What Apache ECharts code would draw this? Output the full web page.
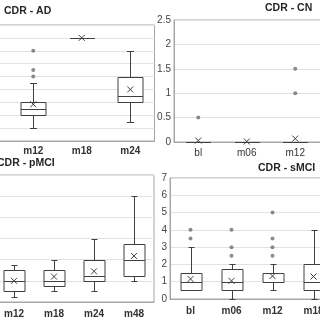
<!DOCTYPE html>
<html><head><meta charset="utf-8">
<script src="https://cdn.jsdelivr.net/npm/echarts@6/dist/echarts.min.js"></script>
<style>html,body{margin:0;padding:0;background:#fff}#c{width:320px;height:320px}</style>
</head><body><div id="c"></div>
<script>
// ---- data: [low whisker, Q1, median, Q3, high whisker] per category ----
const adCats = ['m12', 'm18', 'm24'];
const adBoxes = [[2, 4, 5, 6, 9], [16, 16, 16, 16, 16], [3, 6, 7, 10, 14]];
const adMeans = [5.7, 16, 8];
const adOutliers = [[0, 10], [0, 11], [0, 14]];
const adTicks = [0, 18, 2];

const cnCats = ['bl', 'm06', 'm12'];
const cnBoxes = [[0, 0, 0, 0, 0], [0, 0, 0, 0, 0], [0, 0, 0, 0, 0]];
const cnMeans = [0.03, 0.01, 0.07];
const cnOutliers = [[0, 0.5], [2, 1], [2, 1.5]];
const cnTicks = [0, 2.5, 0.5];

const pmCats = ['m12', 'm18', 'm24', 'm48'];
const pmBoxes = [[0.5, 1, 2, 3, 3.5], [1, 1.5, 2, 3, 4], [1, 2, 2.5, 4, 6], [2, 2.5, 4, 5.5, 10]];
const pmMeans = [2.0, 2.4, 2.9, 4.35];
const pmOutliers = [];
const pmTicks = [0, 12, 2];

const smCats = ['bl', 'm06', 'm12', 'm18'];
const smBoxes = [[0.5, 0.5, 1, 1.5, 3], [0, 0.5, 1, 1.75, 2], [0.5, 1, 1, 1.5, 2], [0, 0.5, 1, 2, 4]];
const smMeans = [1.16, 1.05, 1.33, 1.3];
const smOutliers = [[0, 3.5], [0, 4], [1, 2.5], [1, 3], [1, 4], [2, 2.5], [2, 3], [2, 3.5], [2, 5]];
const smTicks = [0, 7, 1];

const FONT = '"Liberation Sans", Arial, sans-serif';
const LINE = '#404040';

function renderBox(params, api) {
  const i = api.value(0);
  const p = k => api.coord([i, api.value(k)]);
  const lo = p(1), q1 = p(2), md = p(3), q3 = p(4), hi = p(5), mn = p(6);
  const band = api.size([1, 0])[0];
  const x = Math.round(lo[0]) + 0.5;
  const bw = Math.round(band * 0.52), cw = Math.round(band * 0.15);
  const st = { stroke: LINE, lineWidth: 1, fill: null };
  const L = (x1, y1, x2, y2) => ({ type: 'line', shape: { x1, y1, x2, y2 }, style: st });
  const r = v => Math.round(v) + 0.5;
  const ch = [];
  if (hi[1] < q3[1] - 0.5) { ch.push(L(x, r(hi[1]), x, r(q3[1]))); ch.push(L(x - cw / 2, r(hi[1]), x + cw / 2, r(hi[1]))); }
  if (lo[1] > q1[1] + 0.5) { ch.push(L(x, r(q1[1]), x, r(lo[1]))); ch.push(L(x - cw / 2, r(lo[1]), x + cw / 2, r(lo[1]))); }
  ch.push({ type: 'rect', shape: { x: x - bw / 2, y: r(q3[1]), width: bw, height: r(q1[1]) - r(q3[1]) }, style: { fill: '#fff', stroke: LINE, lineWidth: 1 } });
  ch.push(L(x - bw / 2, r(md[1]), x + bw / 2, r(md[1])));
  const s = 3;
  ch.push(L(mn[0] - s, mn[1] - s, mn[0] + s, mn[1] + s));
  ch.push(L(mn[0] - s, mn[1] + s, mn[0] + s, mn[1] - s));
  return { type: 'group', children: ch };
}

const panels = [
  { cats: adCats, boxes: adBoxes, means: adMeans, out: adOutliers, ticks: adTicks, grid: { left: -39.5, width: 194, top: 25, height: 116 }, xmin: -1, xmax: null, bold: true, lm: 5 },
  { cats: cnCats, boxes: cnBoxes, means: cnMeans, out: cnOutliers, ticks: cnTicks, grid: { left: 174, width: 194, top: 20, height: 122 }, xmin: null, xmax: 3, bold: false, lm: 6 },
  { cats: pmCats, boxes: pmBoxes, means: pmMeans, out: pmOutliers, ticks: pmTicks, grid: { left: -86, width: 240, top: 175, height: 127 }, xmin: -2, xmax: null, bold: true, lm: 7 },
  { cats: smCats, boxes: smBoxes, means: smMeans, out: smOutliers, ticks: smTicks, grid: { left: 170, width: 205, top: 178, height: 121 }, xmin: null, xmax: 4, bold: true, lm: 7 }
];

const titles = [
  { text: 'CDR - AD', left: 4, top: 6 },
  { text: 'CDR - CN', left: 265, top: 3 },
  { text: 'CDR - pMCI', left: -3, top: 158 },
  { text: 'CDR - sMCI', left: 258, top: 163 }
];

const option = {
  animation: false,
  backgroundColor: '#fff',
  title: titles.map(t => ({ text: t.text, left: t.left, top: t.top, padding: 0, textStyle: { fontFamily: FONT, fontSize: 10.5, fontWeight: 'bold', color: '#262626' } })),
  grid: panels.map(p => Object.assign({ show: true, borderColor: '#a6a6a6', borderWidth: 1, backgroundColor: 'transparent', containLabel: false, outerBoundsMode: 'none' }, p.grid)),
  xAxis: panels.map((p, k) => {
    const ax = {
      type: 'category', gridIndex: k, data: p.cats,
      axisLine: { show: true, lineStyle: { color: '#a6a6a6' } },
      axisTick: { show: false },
      axisLabel: { interval: 0, margin: p.lm, fontFamily: FONT, fontSize: 10, fontWeight: p.bold ? 'bold' : 'normal', color: '#333' },
      splitLine: { show: false }
    };
    if (p.xmin != null) ax.min = p.xmin;
    if (p.xmax != null) ax.max = p.xmax;
    return ax;
  }),
  yAxis: panels.map((p, k) => ({
    type: 'value', gridIndex: k, min: p.ticks[0], max: p.ticks[1], interval: p.ticks[2],
    axisLine: { show: true, lineStyle: { color: '#a6a6a6' } },
    axisTick: { show: false },
    axisLabel: { margin: 3, fontFamily: FONT, fontSize: 10, color: '#444' },
    splitLine: { show: true, lineStyle: { color: '#e2e2e2' } }
  })),
  series: []
};

panels.forEach((p, k) => {
  option.series.push({
    type: 'custom', xAxisIndex: k, yAxisIndex: k,
    renderItem: renderBox,
    encode: { x: 0, y: [1, 2, 3, 4, 5, 6] },
    data: p.boxes.map((b, i) => [i].concat(b, [p.means[i]])),
    clip: false
  });
  option.series.push({
    type: 'scatter', xAxisIndex: k, yAxisIndex: k,
    symbol: 'circle', symbolSize: 4,
    itemStyle: { color: '#6e6e6e' },
    data: p.out
  });
});

const chart = echarts.init(document.getElementById('c'), null, { renderer: 'canvas' });
chart.setOption(option);
</script>
</body></html>
